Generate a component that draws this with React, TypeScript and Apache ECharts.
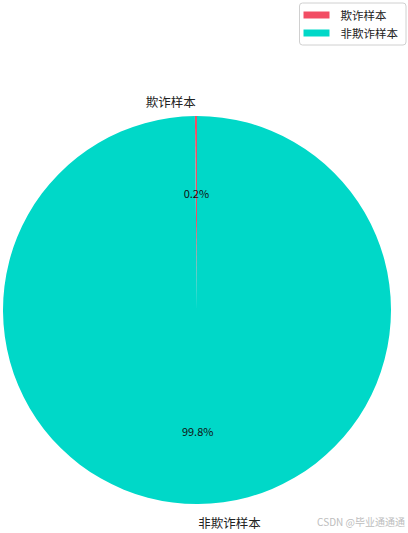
import { useEffect, useRef } from 'react';
import * as echarts from 'echarts';

// Fraud vs non-fraud sample counts
const categories = ['欺诈样本', '非欺诈样本'];
const counts = [492, 284315];
const colors = ['#f24d64', '#00d8c8'];
// distance of each outer name label from the rim
const labelOffsets = [15, 19];

const FONT = '"Noto Sans CJK SC", "Noto Sans", sans-serif';

export default function App() {
    const chartRef = useRef<HTMLDivElement>(null);

    useEffect(() => {
        if (!chartRef.current) return;
        const chart = echarts.init(chartRef.current, null, { renderer: 'svg' });

        const pieData = categories.map((name, i) => ({
            name,
            value: counts[i],
            itemStyle: { color: colors[i] },
            labelLine: { show: false, length: labelOffsets[i], length2: 0 },
        }));
        const ghostData = categories.map((name, i) => ({
            name,
            value: counts[i],
        }));

        chart.setOption({
            animation: false,
            backgroundColor: '#fff',
            legend: {
                data: categories,
                orient: 'vertical',
                right: 2,
                top: 3,
                icon: 'rect',
                itemWidth: 26,
                itemHeight: 7,
                itemGap: 4,
                padding: [5, 8, 5, 4],
                borderColor: '#d0d0d0',
                borderWidth: 1,
                borderRadius: 3,
                selectedMode: false,
                textStyle: {
                    fontFamily: FONT,
                    fontSize: 11.5,
                    color: '#222',
                    lineHeight: 14,
                    padding: [0, 0, 0, 6],
                },
            },
            series: [
                {
                    type: 'pie',
                    center: [197, 310],
                    radius: 194,
                    startAngle: 90,
                    clockwise: false,
                    silent: true,
                    avoidLabelOverlap: false,
                    label: {
                        show: true,
                        position: 'outside',
                        formatter: '{b}',
                        distanceToLabelLine: 0,
                        fontFamily: FONT,
                        fontSize: 12.5,
                        color: '#222',
                    },
                    labelLine: { show: false, length: 16, length2: 0 },
                    data: pieData,
                },
                {
                    // invisible ring used only to place the percent labels at 0.6 r
                    type: 'pie',
                    center: [197, 312],
                    radius: 233,
                    startAngle: 90,
                    clockwise: false,
                    silent: true,
                    avoidLabelOverlap: false,
                    percentPrecision: 1,
                    itemStyle: { color: 'rgba(0,0,0,0)' },
                    label: {
                        show: true,
                        position: 'inside',
                        formatter: '{d}%',
                        fontFamily: FONT,
                        fontSize: 11,
                        color: '#111',
                    },
                    labelLine: { show: false },
                    data: ghostData,
                },
            ],
            graphic: [
                {
                    type: 'text',
                    right: 3,
                    top: 516,
                    style: {
                        text: 'CSDN @毕业通通通',
                        fontFamily: FONT,
                        fontSize: 10,
                        fill: '#bdbdbd',
                    },
                },
            ],
        });

        return () => {
            chart.dispose();
        };
    }, []);

    return (
        <div
            ref={chartRef}
            style={{ position: 'fixed', left: 0, top: 0, width: 408, height: 533, background: '#fff' }}
        />
    );
}
